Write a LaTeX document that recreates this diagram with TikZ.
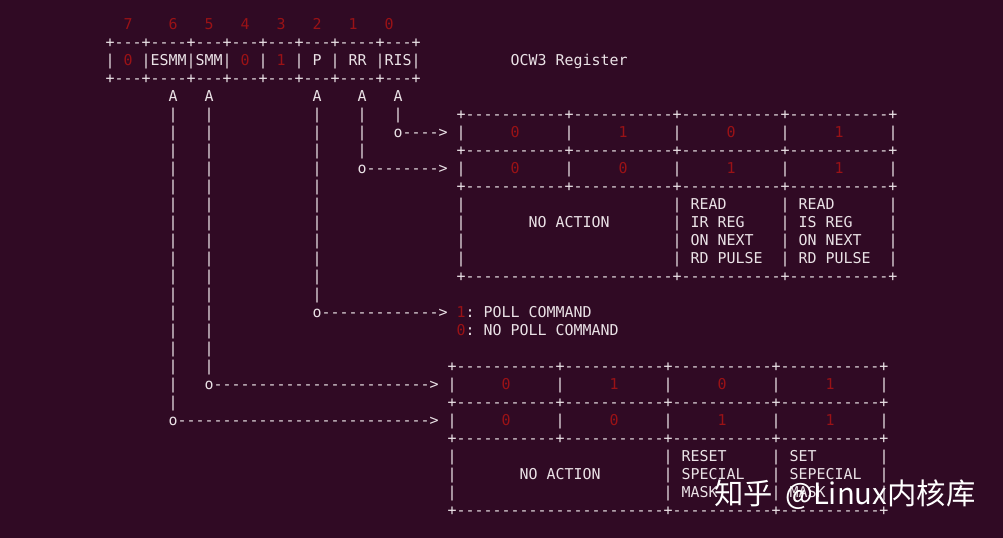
\documentclass[tikz,border=0pt]{standalone}
\usepackage{fontspec}
\usepackage{xcolor}
\newfontfamily\termfont{DejaVu Sans Mono}
\newfontfamily\markfont{Noto Sans CJK SC}
\definecolor{termbg}{HTML}{300A24}
\definecolor{termfg}{HTML}{EAE2E6}
\definecolor{termred}{HTML}{9A1216}
\newlength{\colw}
\setlength{\colw}{6.75pt}
\newcommand{\sk}[1]{\hspace*{#1\colw}}
\newcommand{\bitv}[1]{\textcolor{termred}{#1}}
\newcommand{\tabrule}{+-----------+-----------+-----------+-----------+}
\newcommand{\widerule}{+-----------------------+-----------+-----------+}
\newcommand{\cellrow}[4]{|\sk{5}\bitv{#1}\sk{5}|\sk{5}\bitv{#2}\sk{5}|\sk{5}\bitv{#3}\sk{5}|\sk{5}\bitv{#4}\sk{5}|}
\begin{document}
\begin{tikzpicture}[x=0.75pt,y=-0.75pt,
                  row/.style={anchor=base west,inner sep=0pt,outer sep=0pt,text=termfg,
                    font=\termfont\fontsize{11.21pt}{13.5pt}\selectfont},
                  watermark/.style={inner sep=0pt,text=white,
                    font=\markfont\fontsize{22pt}{27pt}\selectfont}
                  ]
                  \fill[termbg] (0,0) rectangle (1003,538);
                  % register
                  \node[row] (r0) at (105.6,29.5) {\sk{2}\bitv{7}\sk{4}\bitv{6}\sk{3}\bitv{5}\sk{3}\bitv{4}\sk{3}\bitv{3}\sk{3}\bitv{2}\sk{3}\bitv{1}\sk{3}\bitv{0}};
                  \node[row] (r1) at ([yshift=-13.5pt]r0.base west) {+---+----+---+---+---+---+----+---+};
                  \node[row] (r2) at ([yshift=-13.5pt]r1.base west) {|\sk{1}\bitv{0}\sk{1}|ESMM|SMM|\sk{1}\bitv{0}\sk{1}|\sk{1}\bitv{1}\sk{1}|\sk{1}P\sk{1}|\sk{1}RR\sk{1}|RIS|\sk{10}OCW3\sk{1}Register};
                  \node[row] (r3) at ([yshift=-13.5pt]r2.base west) {+---+----+---+---+---+---+----+---+};
                  \node[row] (r4) at ([yshift=-13.5pt]r3.base west) {\sk{7}A\sk{3}A\sk{11}A\sk{4}A\sk{3}A};
                  % upper table
                  \node[row] (r5) at ([yshift=-13.5pt]r4.base west) {\sk{7}|\sk{3}|\sk{11}|\sk{4}|\sk{3}|\sk{6}\tabrule};
                  \node[row] (r6) at ([yshift=-13.5pt]r5.base west) {\sk{7}|\sk{3}|\sk{11}|\sk{4}|\sk{3}o---->\sk{1}\cellrow{0}{1}{0}{1}};
                  \node[row] (r7) at ([yshift=-13.5pt]r6.base west) {\sk{7}|\sk{3}|\sk{11}|\sk{4}|\sk{10}\tabrule};
                  \node[row] (r8) at ([yshift=-13.5pt]r7.base west) {\sk{7}|\sk{3}|\sk{11}|\sk{4}o-------->\sk{1}\cellrow{0}{0}{1}{1}};
                  \node[row] (r9) at ([yshift=-13.5pt]r8.base west) {\sk{7}|\sk{3}|\sk{11}|\sk{15}\tabrule};
                  \node[row] (r10) at ([yshift=-13.5pt]r9.base west) {\sk{7}|\sk{3}|\sk{11}|\sk{15}|\sk{23}|\sk{1}READ\sk{6}|\sk{1}READ\sk{6}|};
                  \node[row] (r11) at ([yshift=-13.5pt]r10.base west) {\sk{7}|\sk{3}|\sk{11}|\sk{15}|\sk{7}NO\sk{1}ACTION\sk{7}|\sk{1}IR\sk{1}REG\sk{4}|\sk{1}IS\sk{1}REG\sk{4}|};
                  \node[row] (r12) at ([yshift=-13.5pt]r11.base west) {\sk{7}|\sk{3}|\sk{11}|\sk{15}|\sk{23}|\sk{1}ON\sk{1}NEXT\sk{3}|\sk{1}ON\sk{1}NEXT\sk{3}|};
                  \node[row] (r13) at ([yshift=-13.5pt]r12.base west) {\sk{7}|\sk{3}|\sk{11}|\sk{15}|\sk{23}|\sk{1}RD\sk{1}PULSE\sk{2}|\sk{1}RD\sk{1}PULSE\sk{2}|};
                  \node[row] (r14) at ([yshift=-13.5pt]r13.base west) {\sk{7}|\sk{3}|\sk{11}|\sk{15}\widerule};
                  % poll
                  \node[row] (r15) at ([yshift=-13.5pt]r14.base west) {\sk{7}|\sk{3}|\sk{11}|};
                  \node[row] (r16) at ([yshift=-13.5pt]r15.base west) {\sk{7}|\sk{3}|\sk{11}o------------->\sk{1}\bitv{1}:\sk{1}POLL\sk{1}COMMAND};
                  \node[row] (r17) at ([yshift=-13.5pt]r16.base west) {\sk{7}|\sk{3}|\sk{27}\bitv{0}:\sk{1}NO\sk{1}POLL\sk{1}COMMAND};
                  \node[row] (r18) at ([yshift=-13.5pt]r17.base west) {\sk{7}|\sk{3}|};
                  % lower table
                  \node[row] (r19) at ([yshift=-13.5pt]r18.base west) {\sk{7}|\sk{3}|\sk{26}\tabrule};
                  \node[row] (r20) at ([yshift=-13.5pt]r19.base west) {\sk{7}|\sk{3}o------------------------>\sk{1}\cellrow{0}{1}{0}{1}};
                  \node[row] (r21) at ([yshift=-13.5pt]r20.base west) {\sk{7}|\sk{30}\tabrule};
                  \node[row] (r22) at ([yshift=-13.5pt]r21.base west) {\sk{7}o---------------------------->\sk{1}\cellrow{0}{0}{1}{1}};
                  \node[row] (r23) at ([yshift=-13.5pt]r22.base west) {\sk{38}\tabrule};
                  \node[row] (r24) at ([yshift=-13.5pt]r23.base west) {\sk{38}|\sk{23}|\sk{1}RESET\sk{5}|\sk{1}SET\sk{7}|};
                  \node[row] (r25) at ([yshift=-13.5pt]r24.base west) {\sk{38}|\sk{7}NO\sk{1}ACTION\sk{7}|\sk{1}SPECIAL\sk{3}|\sk{1}SEPECIAL\sk{2}|};
                  \node[row] (r26) at ([yshift=-13.5pt]r25.base west) {\sk{38}|\sk{23}|\sk{1}MASK\sk{6}|\sk{1}MASK\sk{6}|};
                  \node[row] (r27) at ([yshift=-13.5pt]r26.base west) {\sk{38}\widerule};
                  \node[watermark] (zhihu) at (845,495) {知乎\hspace*{9pt}@Linux内核库};
                \end{tikzpicture}
\end{document}
